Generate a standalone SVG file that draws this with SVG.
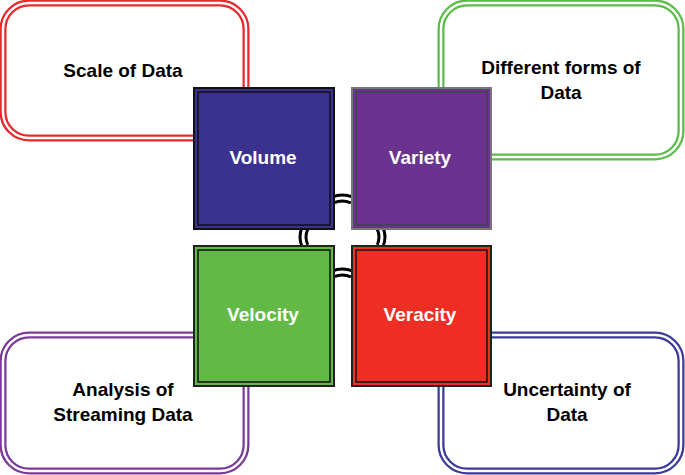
<svg xmlns="http://www.w3.org/2000/svg" width="685" height="475" viewBox="0 0 685 475">
<style>
.ob{fill:#fff;stroke-width:7}
.ib{fill:none;stroke:#fff;stroke-width:2.5}
.t{font-family:"Liberation Sans",Arial,sans-serif;font-weight:bold;font-size:19px;text-anchor:middle}
.w{fill:#fff}
.c1{fill:none;stroke:#000;stroke-width:9}
.c2{fill:none;stroke:#fff;stroke-width:3}
.sq{stroke-width:2}
</style>
<rect width="685" height="475" fill="#fff"/>
<g id="scale"><rect class="ob" x="3" y="3" width="243" height="135" rx="26" stroke="#e8282b"/><rect class="ib" x="3" y="3" width="243" height="135" rx="26"/><text class="t" x="123" y="77">Scale of Data</text></g>
<g id="forms"><rect class="ob" x="441" y="3" width="240" height="154" rx="26" stroke="#5cbb4a"/><rect class="ib" x="441" y="3" width="240" height="154" rx="26"/><text class="t" x="561" y="74">Different forms of</text><text class="t" x="561" y="99">Data</text></g>
<g id="streaming"><rect class="ob" x="3" y="335" width="243" height="136" rx="26" stroke="#7b3a97"/><rect class="ib" x="3" y="335" width="243" height="136" rx="26"/><text class="t" x="123" y="396">Analysis of</text><text class="t" x="123" y="421">Streaming Data</text></g>
<g id="uncertainty"><rect class="ob" x="441" y="335" width="240" height="136" rx="26" stroke="#3b3a9a"/><rect class="ib" x="441" y="335" width="240" height="136" rx="26"/><text class="t" x="567" y="396">Uncertainty of</text><text class="t" x="567" y="421">Data</text></g>
<g id="connectors">
<path class="c1" d="M333,200 Q342,196 352,200"/><path class="c2" d="M333,200 Q342,196 352,200"/>
<path class="c1" d="M333,274 Q342,270 352,274"/><path class="c2" d="M333,274 Q342,270 352,274"/>
<path class="c1" d="M305,228 Q301,237 305,246"/><path class="c2" d="M305,228 Q301,237 305,246"/>
<path class="c1" d="M380,228 Q384,237 380,246"/><path class="c2" d="M380,228 Q384,237 380,246"/>
</g>
<g id="volume"><rect x="194" y="88" width="140" height="141" fill="#3b318e" stroke="#111" class="sq"/><rect x="198" y="92" width="132" height="133" fill="none" stroke="#111" stroke-width="1.5"/><text class="t w" x="263" y="164">Volume</text></g>
<g id="variety"><rect x="352" y="88" width="139" height="141" fill="#6b3390" stroke="#777" class="sq"/><rect x="356" y="92" width="131" height="133" fill="none" stroke="#444" stroke-width="1.5"/><text class="t w" x="420" y="164">Variety</text></g>
<g id="velocity"><rect x="194" y="246" width="140" height="140" fill="#62b946" stroke="#222" class="sq"/><rect x="198" y="250" width="132" height="132" fill="none" stroke="#111" stroke-width="1.5"/><text class="t w" x="263" y="321">Velocity</text></g>
<g id="veracity"><rect x="352" y="246" width="139" height="140" fill="#ee2e24" stroke="#222" class="sq"/><rect x="356" y="250" width="131" height="132" fill="none" stroke="#111" stroke-width="1.5"/><text class="t w" x="420" y="321">Veracity</text></g>
</svg>
